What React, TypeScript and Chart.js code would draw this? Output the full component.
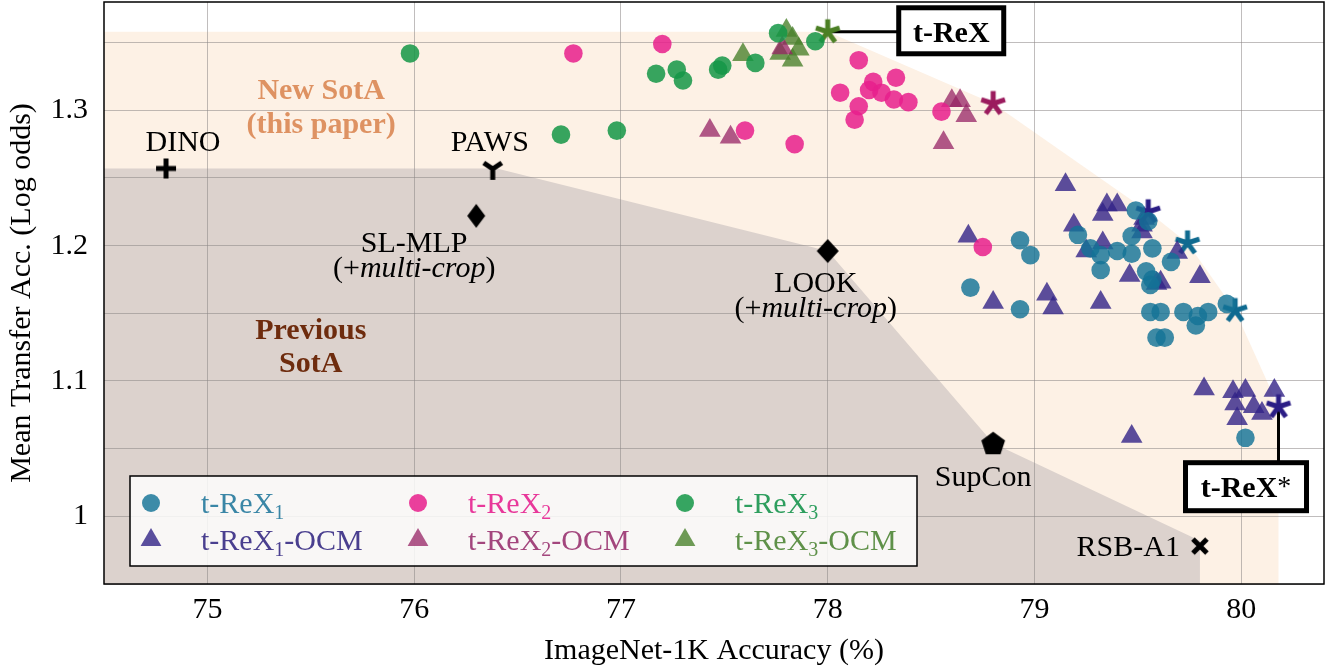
import React, { useEffect, useRef } from 'react';
import { Chart, registerables } from 'chart.js';

Chart.register(...registerables);

const FONT = '"Liberation Serif", "Times New Roman", Times, serif';

// ---------- axes ----------
const xRange = [74.5, 80.4];
const yRange = [0.95, 1.38];
const xTickLabels = [75, 76, 77, 78, 79, 80];
const yTickLabels = [1, 1.1, 1.2, 1.3];

// ---------- series: [ImageNet-1K acc (%), mean transfer acc (log odds)] ----------
const tRex1: [number, number][] = [
  [78.93, 1.204], [78.98, 1.193], [78.69, 1.169], [78.93, 1.153], [79.21, 1.208], [79.27, 1.198],
  [79.32, 1.193], [79.40, 1.196], [79.32, 1.182], [79.47, 1.194], [79.47, 1.207], [79.49, 1.226],
  [79.55, 1.218], [79.57, 1.198], [79.66, 1.188], [79.54, 1.181], [79.57, 1.175], [79.56, 1.171],
  [79.56, 1.151], [79.61, 1.151], [79.72, 1.151], [79.79, 1.148], [79.78, 1.141], [79.84, 1.151],
  [79.93, 1.157], [79.59, 1.132], [79.63, 1.132], [80.02, 1.058],
];
const tRex2: [number, number][] = [
  [76.77, 1.342], [77.20, 1.349], [77.60, 1.285], [77.84, 1.275], [78.15, 1.337], [78.06, 1.313],
  [78.22, 1.321], [78.20, 1.315], [78.26, 1.313], [78.33, 1.324], [78.32, 1.308], [78.39, 1.306],
  [78.15, 1.303], [78.13, 1.293], [78.55, 1.299], [78.75, 1.199],
];
const tRex3: [number, number][] = [
  [75.98, 1.342], [76.71, 1.282], [76.98, 1.285], [77.17, 1.327], [77.27, 1.330], [77.30, 1.322],
  [77.47, 1.330], [77.49, 1.333], [77.65, 1.335], [77.76, 1.357], [77.94, 1.351],
];
const tRex1Ocm: [number, number][] = [
  [78.68, 1.207], [78.80, 1.158], [79.06, 1.164], [79.09, 1.154], [79.15, 1.245], [79.19, 1.215],
  [79.25, 1.196], [79.33, 1.202], [79.32, 1.158], [79.33, 1.223], [79.35, 1.230], [79.40, 1.230],
  [79.46, 1.178], [79.52, 1.215], [79.53, 1.220], [79.52, 1.210], [79.59, 1.172], [79.61, 1.173],
  [79.69, 1.195], [79.80, 1.177], [79.82, 1.094], [79.96, 1.092], [80.02, 1.093], [80.16, 1.093],
  [79.97, 1.083], [80.06, 1.081], [80.10, 1.076], [79.98, 1.072], [79.47, 1.059],
];
const tRex2Ocm: [number, number][] = [
  [77.43, 1.285], [77.53, 1.280], [77.78, 1.346], [78.60, 1.307], [78.64, 1.307], [78.67, 1.296], [78.56, 1.276],
];
const tRex3Ocm: [number, number][] = [
  [77.59, 1.341], [77.80, 1.359], [77.83, 1.353], [77.86, 1.345], [77.77, 1.342], [77.83, 1.337],
];

// best models (asterisks)
const starTRex3: [number, number][] = [[78.0, 1.358]];
const starTRex2: [number, number][] = [[78.8, 1.305]];
const starTRex1: [number, number][] = [[79.74, 1.202], [79.97, 1.152]];
const starTRex1Ocm: [number, number][] = [[79.55, 1.225], [80.18, 1.081]];

// previous methods
const baselineNames = ['DINO', 'PAWS', 'SL-MLP', 'LOOK', 'SupCon', 'RSB-A1'];
const baselineAcc = [74.8, 76.38, 76.30, 78.0, 78.8, 79.8];
const baselineTransfer = [1.257, 1.256, 1.222, 1.196, 1.054, 0.978];
const baselineMarkers = ['plus', 'ydown', 'thinDiamond', 'diamond', 'pentagon', 'cross'];

// shaded regions (polygon vertices)
const regionNewSotA: [number, number][] = [
  [74.5, 1.358], [78.0, 1.358], [78.8, 1.305], [79.55, 1.225], [79.74, 1.202], [79.97, 1.152],
  [80.18, 1.081], [80.18, 0.95], [74.5, 0.95],
];
const regionPrevSotA: [number, number][] = [
  [74.5, 1.257], [76.4, 1.257], [78.0, 1.196], [78.8, 1.054], [79.8, 0.982], [79.8, 0.95], [74.5, 0.95],
];

// ---------- styles ----------
const C1 = 'rgba(20,115,150,0.82)';
const C2 = 'rgba(232,30,140,0.85)';
const C3 = 'rgba(20,150,70,0.85)';
const C1O = 'rgba(50,35,135,0.8)';
const C2O = 'rgba(150,35,100,0.75)';
const C3O = 'rgba(75,130,45,0.8)';
const PEACH = '#fdf1e5';
const GRAYFILL = '#dcd2cd';
const GRID = 'rgba(140,135,135,0.55)';

// label layout (pixel offsets from each baseline marker)
const baselineLabelLayout: Record<string, { lines: any[][]; dx: number; dy: number[]; align: string }> = {
  DINO: { lines: [[['DINO', 'n']]], dx: 17, dy: [-17], align: 'center' },
  PAWS: { lines: [[['PAWS', 'n']]], dx: -3, dy: [-19], align: 'center' },
  'SL-MLP': {
    lines: [[['SL-MLP', 'n']], [['(+', 'n'], ['multi-crop', 'i'], [')', 'n']]],
    dx: -62, dy: [36, 61], align: 'center',
  },
  LOOK: {
    lines: [[['LOOK', 'n']], [['(+', 'n'], ['multi-crop', 'i'], [')', 'n']]],
    dx: -12, dy: [41, 66], align: 'center',
  },
  SupCon: { lines: [[['SupCon', 'n']]], dx: -10, dy: [43], align: 'center' },
  'RSB-A1': { lines: [[['RSB-A1', 'n']]], dx: -20, dy: [10], align: 'right' },
};

function fontOf(kind: string, size = 30) {
  if (kind === 'b') return `bold ${size}px ${FONT}`;
  if (kind === 'i') return `italic ${size}px ${FONT}`;
  return `${size}px ${FONT}`;
}

function drawRuns(ctx: CanvasRenderingContext2D, runs: any[], x: number, y: number, align: string, size = 30) {
  let w = 0;
  runs.forEach((r) => {
    ctx.font = fontOf(r[1], r[2] || size);
    w += ctx.measureText(r[0]).width;
  });
  let cx = align === 'center' ? x - w / 2 : align === 'right' ? x - w : x;
  ctx.textAlign = 'left';
  ctx.textBaseline = 'alphabetic';
  runs.forEach((r) => {
    ctx.font = fontOf(r[1], r[2] || size);
    ctx.fillText(r[0], cx, y + (r[3] || 0));
    cx += ctx.measureText(r[0]).width;
  });
  return w;
}

function markerCanvas(kind: string, color: string) {
  const s = 34;
  const c = document.createElement('canvas');
  c.width = s;
  c.height = s;
  const g = c.getContext('2d') as CanvasRenderingContext2D;
  const m = s / 2;
  g.fillStyle = color;
  g.strokeStyle = color;
  g.lineCap = 'butt';
  g.beginPath();
  if (kind === 'star') {
    g.lineWidth = 5;
    for (let i = 0; i < 5; i++) {
      const a = -Math.PI / 2 + (i * 2 * Math.PI) / 5;
      g.moveTo(m, m);
      g.lineTo(m + Math.cos(a) * 12.5, m + Math.sin(a) * 12.5);
    }
    g.stroke();
  } else if (kind === 'plus') {
    g.lineWidth = 5;
    g.moveTo(m - 10, m); g.lineTo(m + 10, m);
    g.moveTo(m, m - 10); g.lineTo(m, m + 10);
    g.stroke();
  } else if (kind === 'cross') {
    g.lineWidth = 5;
    g.moveTo(m - 7, m - 7); g.lineTo(m + 7, m + 7);
    g.moveTo(m + 7, m - 7); g.lineTo(m - 7, m + 7);
    g.stroke();
  } else if (kind === 'ydown') {
    g.lineWidth = 5;
    g.moveTo(m - 9, m - 7); g.lineTo(m, m - 1); g.lineTo(m + 9, m - 7);
    g.moveTo(m, m - 1); g.lineTo(m, m + 10);
    g.stroke();
  } else if (kind === 'diamond' || kind === 'thinDiamond') {
    const hw = kind === 'diamond' ? 11 : 9;
    g.moveTo(m, m - 12); g.lineTo(m + hw, m); g.lineTo(m, m + 12); g.lineTo(m - hw, m);
    g.closePath();
    g.fill();
  } else if (kind === 'pentagon') {
    for (let i = 0; i < 5; i++) {
      const a = -Math.PI / 2 + (i * 2 * Math.PI) / 5;
      const px = m + Math.cos(a) * 12.5;
      const py = m + 1 + Math.sin(a) * 12.5;
      if (i === 0) g.moveTo(px, py); else g.lineTo(px, py);
    }
    g.closePath();
    g.fill();
  }
  return c;
}

const toPts = (arr: [number, number][]) => arr.map(([x, y]) => ({ x, y }));

function pix(chart: any, x: number, y: number) {
  return [chart.scales.x.getPixelForValue(x), chart.scales.y.getPixelForValue(y)];
}

function fillPoly(chart: any, poly: [number, number][], color: string) {
  const ctx = chart.ctx;
  ctx.beginPath();
  poly.forEach(([x, y], i) => {
    const [px, py] = pix(chart, x, y);
    if (i === 0) ctx.moveTo(px, py); else ctx.lineTo(px, py);
  });
  ctx.closePath();
  ctx.fillStyle = color;
  ctx.fill();
}

const legendEntries = [
  { sub: '1', suffix: '', color: C1, text: '#3a86a6', shape: 'circle' },
  { sub: '2', suffix: '', color: C2, text: '#e8389a', shape: 'circle' },
  { sub: '3', suffix: '', color: C3, text: '#2e9e5e', shape: 'circle' },
  { sub: '1', suffix: '-OCM', color: C1O, text: '#4a3f8f', shape: 'triangle' },
  { sub: '2', suffix: '-OCM', color: C2O, text: '#a3467d', shape: 'triangle' },
  { sub: '3', suffix: '-OCM', color: C3O, text: '#5f9149', shape: 'triangle' },
];

const decorPlugin = {
  id: 'decor',
  beforeDraw(chart: any) {
    const ctx = chart.ctx;
    const a = chart.chartArea;
    ctx.save();
    ctx.fillStyle = '#ffffff';
    ctx.fillRect(0, 0, chart.width, chart.height);
    ctx.beginPath();
    ctx.rect(a.left, a.top, a.right - a.left, a.bottom - a.top);
    ctx.clip();
    fillPoly(chart, regionNewSotA, PEACH);
    fillPoly(chart, regionPrevSotA, GRAYFILL);
    ctx.restore();
  },
  beforeDatasetsDraw(chart: any) {
    const ctx = chart.ctx;
    ctx.save();
    ctx.strokeStyle = '#000';
    ctx.lineWidth = 3;
    const [sx, sy] = pix(chart, starTRex3[0][0], starTRex3[0][1]);
    ctx.beginPath();
    ctx.moveTo(sx, sy);
    ctx.lineTo(sx + 72, sy);
    ctx.stroke();
    const [tx, ty] = pix(chart, starTRex1Ocm[1][0], starTRex1Ocm[1][1]);
    ctx.beginPath();
    ctx.moveTo(tx, ty);
    ctx.lineTo(tx, ty + 56);
    ctx.stroke();
    ctx.restore();
  },
  afterDatasetsDraw(chart: any) {
    const ctx = chart.ctx;
    const a = chart.chartArea;
    ctx.save();

    // region captions
    const [nx, ny] = pix(chart, 75.55, 1.308);
    ctx.fillStyle = '#de9262';
    drawRuns(ctx, [['New SotA', 'b']], nx, ny, 'center');
    drawRuns(ctx, [['(this paper)', 'b']], nx, ny + 34, 'center');
    const [qx, qy] = pix(chart, 75.5, 1.131);
    ctx.fillStyle = '#6e2c0e';
    drawRuns(ctx, [['Previous', 'b']], qx, qy, 'center');
    drawRuns(ctx, [['SotA', 'b']], qx, qy + 33, 'center');

    // baseline labels
    ctx.fillStyle = '#000';
    baselineNames.forEach((name, i) => {
      const lay = baselineLabelLayout[name];
      const [px, py] = pix(chart, baselineAcc[i], baselineTransfer[i]);
      lay.lines.forEach((runs, li) => {
        drawRuns(ctx, runs, px + lay.dx, py + lay.dy[li], lay.align);
      });
    });

    // t-ReX box
    const [sx, sy] = pix(chart, starTRex3[0][0], starTRex3[0][1]);
    ctx.fillStyle = '#fff';
    ctx.strokeStyle = '#000';
    ctx.lineWidth = 5;
    ctx.fillRect(sx + 71, sy - 24, 105, 46);
    ctx.strokeRect(sx + 71, sy - 24, 105, 46);
    ctx.fillStyle = '#000';
    drawRuns(ctx, [['t-ReX', 'b']], sx + 123.5, sy + 10, 'center');

    // t-ReX* box
    const [tx, ty] = pix(chart, starTRex1Ocm[1][0], starTRex1Ocm[1][1]);
    ctx.fillStyle = '#fff';
    ctx.fillRect(tx - 93, ty + 56, 121, 48);
    ctx.strokeRect(tx - 93, ty + 56, 121, 48);
    ctx.fillStyle = '#000';
    drawRuns(ctx, [['t-ReX', 'b'], ['*', 'n', 28, -2]], tx - 32.5, ty + 90, 'center');

    // legend
    const lx = a.left + 26;
    const ly = a.bottom - 108;
    ctx.fillStyle = 'rgba(255,255,255,0.82)';
    ctx.fillRect(lx, ly, 787, 90);
    ctx.strokeStyle = '#000';
    ctx.lineWidth = 1.5;
    ctx.strokeRect(lx, ly, 787, 90);
    legendEntries.forEach((e, i) => {
      const col = i % 3;
      const row = Math.floor(i / 3);
      const mx = lx + 21 + col * 267;
      const my = ly + 27 + row * 37;
      ctx.fillStyle = e.color;
      ctx.beginPath();
      if (e.shape === 'circle') {
        ctx.arc(mx, my, 9, 0, Math.PI * 2);
      } else {
        const r = 12;
        ctx.moveTo(mx, my - r);
        ctx.lineTo(mx + r * Math.sin((2 * Math.PI) / 3), my - r * Math.cos((2 * Math.PI) / 3));
        ctx.lineTo(mx + r * Math.sin((4 * Math.PI) / 3), my - r * Math.cos((4 * Math.PI) / 3));
        ctx.closePath();
      }
      ctx.fill();
      ctx.fillStyle = e.text;
      const runs: any[] = [['t-ReX', 'n'], [e.sub, 'n', 20, 6]];
      if (e.suffix) runs.push([e.suffix, 'n']);
      drawRuns(ctx, runs, mx + 50, my + 10, 'left');
    });

    // frame
    ctx.strokeStyle = '#000';
    ctx.lineWidth = 1.5;
    ctx.strokeRect(a.left, a.top, a.right - a.left, a.bottom - a.top);
    ctx.restore();
  },
};

function zeroPadding(s: any) {
  s.paddingTop = 0;
  s.paddingBottom = 0;
  s.paddingLeft = 0;
  s.paddingRight = 0;
}

export default function App() {
  const ref = useRef<HTMLCanvasElement | null>(null);

  useEffect(() => {
    document.body.style.margin = '0';
    const canvas = ref.current;
    if (!canvas) return;

    const pointDs = (label: string, data: [number, number][], color: string, style: any, radius: number) => ({
      label,
      data: toPts(data),
      backgroundColor: color,
      borderColor: color,
      pointStyle: style,
      pointRadius: radius,
      pointBorderWidth: 0,
      showLine: false,
      clip: false,
    });

    const datasets: any[] = [
      pointDs('t-ReX1', tRex1, C1, 'circle', 9.3),
      pointDs('t-ReX2', tRex2, C2, 'circle', 9.3),
      pointDs('t-ReX3', tRex3, C3, 'circle', 9.3),
      pointDs('t-ReX1-OCM', tRex1Ocm, C1O, 'triangle', 12.5),
      pointDs('t-ReX2-OCM', tRex2Ocm, C2O, 'triangle', 12.5),
      pointDs('t-ReX3-OCM', tRex3Ocm, C3O, 'triangle', 12.5),
      pointDs('best t-ReX1', starTRex1, C1, markerCanvas('star', '#0f6a90'), 10),
      pointDs('best t-ReX1-OCM', starTRex1Ocm, C1O, markerCanvas('star', '#2b1d85'), 10),
      pointDs('best t-ReX2', starTRex2, C2O, markerCanvas('star', '#9b1b5e'), 10),
      pointDs('best t-ReX3', starTRex3, C3O, markerCanvas('star', '#4b7f24'), 10),
    ];
    baselineNames.forEach((name, i) => {
      datasets.push(
        pointDs(name, [[baselineAcc[i], baselineTransfer[i]]], '#000', markerCanvas(baselineMarkers[i], '#000'), 10)
      );
    });

    const chart = new Chart(canvas, {
      type: 'scatter',
      data: { datasets },
      plugins: [decorPlugin],
      options: {
        animation: false,
        responsive: false,
        maintainAspectRatio: false,
        layout: { autoPadding: false, padding: { top: 2, right: 3, left: 0, bottom: 0 } },
        plugins: { legend: { display: false }, tooltip: { enabled: false } },
        scales: {
          x: {
            type: 'linear',
            min: xRange[0],
            max: xRange[1],
            afterFit: (s: any) => { s.height = 85; zeroPadding(s); },
            ticks: {
              stepSize: 1,
              includeBounds: false,
              padding: 8,
              color: '#000',
              font: { family: FONT, size: 30 },
              callback: (v: any) => (xTickLabels.includes(Number(v)) ? String(v) : ''),
            },
            grid: { color: GRID, lineWidth: 1, drawTicks: false },
            border: { display: false },
            title: {
              display: true,
              text: 'ImageNet-1K Accuracy (%)',
              color: '#000',
              font: { family: FONT, size: 30 },
              padding: { top: 0, bottom: 0 },
            },
          },
          y: {
            type: 'linear',
            min: yRange[0],
            max: yRange[1],
            afterFit: (s: any) => { s.width = 104; zeroPadding(s); },
            ticks: {
              stepSize: 0.05,
              includeBounds: false,
              padding: 16,
              color: '#000',
              font: { family: FONT, size: 30 },
              callback: (v: any) => {
                const r = Math.round(Number(v) * 100);
                const hit = yTickLabels.find((t) => Math.round(t * 100) === r);
                if (hit === undefined) return '';
                return hit === 1 ? '1' : hit.toFixed(1);
              },
            },
            grid: { color: GRID, lineWidth: 1, drawTicks: false },
            border: { display: false },
            title: {
              display: true,
              text: 'Mean Transfer Acc. (Log odds)',
              color: '#000',
              font: { family: FONT, size: 30 },
              padding: { top: 4, bottom: 0 },
            },
          },
        },
      },
    } as any);

    return () => chart.destroy();
  }, []);

  return <canvas ref={ref} width={1327} height={669} style={{ display: 'block' }} />;
}
